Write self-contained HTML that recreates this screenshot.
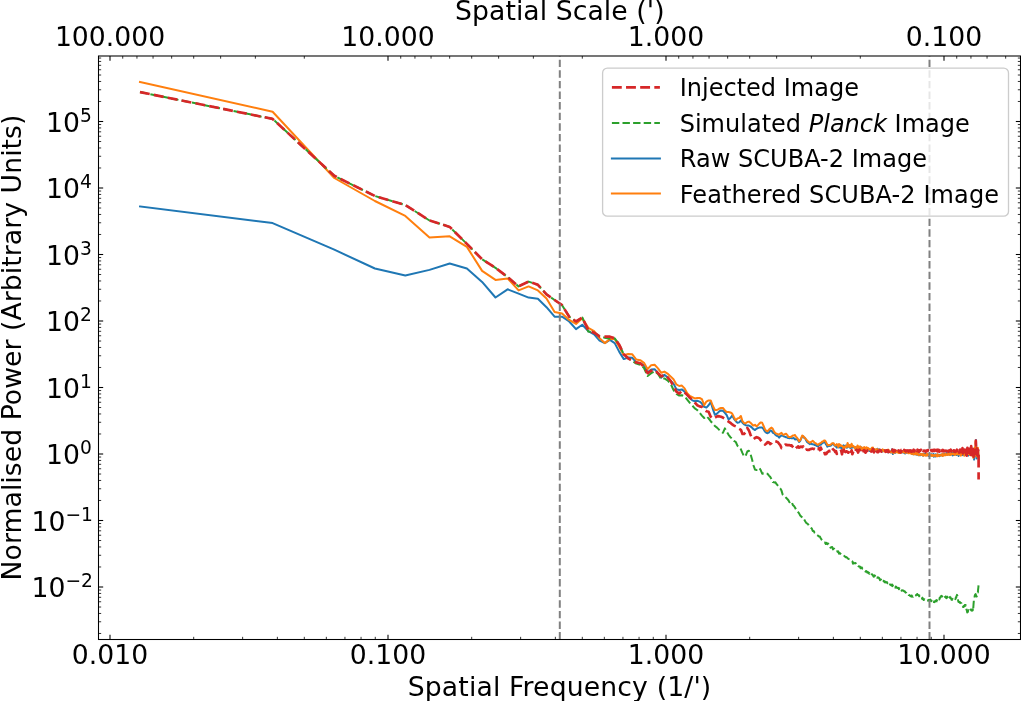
<!DOCTYPE html>
<html lang="en"><head><meta charset="utf-8"><title>Power spectrum</title>
<style>html,body{margin:0;padding:0;background:#fff}body{width:1021px;height:701px;overflow:hidden}</style></head>
<body>
<svg width="1021" height="701" viewBox="0 0 1021 701" style="display:block">
<rect width="1021" height="701" fill="#fff"/>
<defs><clipPath id="ax"><rect x="98.5" y="56.0" width="922.0" height="583.5"/></clipPath></defs>
<g clip-path="url(#ax)" fill="none" stroke-linejoin="round">
<path d="M140.0,206.5 L272.6,223.1 L334.3,249.7 L374.9,268.5 L405.3,275.5 L429.5,269.9 L449.7,263.5 L466.9,268.5 L482.1,281.9 L495.5,297.5 L507.6,289.3 L518.6,293.6 L528.6,297.6 L537.9,298.8 L546.5,307.2 L554.6,316.7 L562.1,316.7 L569.2,321.5 L576.0,329.1 L582.3,324.7 L588.3,331.1 L594.1,334.3 L599.6,340.7 L604.8,343.1 L609.9,339.9 L614.7,343.1 L619.3,351.9 L623.8,359.1 L628.1,357.5 L632.3,357.8 L636.3,362.4 L640.2,363.2 L644.0,365.6 L647.6,372.4 L651.2,369.6 L654.6,369.2 L658.0,373.2 L661.3,377.6 L664.4,374.8 L667.5,377.2 L670.6,380.8 L673.5,383.6 L676.4,389.2 L679.2,390.0 L681.9,389.4 L684.6,391.6 L687.2,394.8 L689.8,398.0 L692.3,400.4 L694.8,401.2 L697.2,400.8 L699.6,401.6 L701.9,403.6 L704.2,406.8 L706.4,407.6 L708.6,405.2 L710.7,402.0 L712.9,409.2 L714.9,414.8 L717.0,413.6 L719.0,411.6 L721.0,410.4 L722.9,410.8 L724.9,412.8 L726.7,415.2 L728.6,419.6 L730.4,418.0 L732.2,415.6 L734.0,418.8 L735.8,421.2 L737.5,422.8 L739.2,422.4 L740.9,420.4 L742.5,422.8 L744.1,424.4 L745.7,425.2 L747.3,425.6 L748.9,425.6 L750.5,426.4 L752.0,427.6 L753.5,429.2 L755.0,430.0 L756.5,428.8 L757.9,428.0 L759.3,427.6 L760.8,427.6 L762.2,427.6 L763.6,429.2 L764.9,431.6 L766.3,432.8 L767.6,433.2 L769.0,432.4 L770.3,430.4 L771.6,430.8 L772.8,432.8 L774.1,433.2 L775.4,434.8 L776.6,435.8 L777.9,436.1 L779.1,437.6 L780.3,436.3 L781.5,435.5 L782.7,435.6 L783.8,436.4 L785.0,436.8 L786.1,437.2 L787.3,437.7 L788.4,438.1 L789.5,438.2 L790.6,437.8 L791.7,438.3 L792.8,438.3 L793.9,438.0 L795.0,439.4 L796.0,439.2 L797.1,439.3 L798.1,440.4 L799.1,441.9 L800.2,441.0 L801.2,438.5 L802.2,436.4 L803.2,436.3 L804.2,437.9 L805.2,438.3 L806.1,440.2 L807.1,441.9 L808.1,442.8 L809.0,443.5 L810.0,444.1 L810.9,443.2 L811.8,444.2 L812.7,444.3 L813.7,444.4 L814.6,445.0 L815.5,444.8 L816.4,445.7 L817.2,446.0 L818.1,446.3 L819.0,445.1 L819.9,444.4 L820.7,444.8 L821.6,443.8 L822.4,443.1 L823.3,442.7 L824.1,441.9 L825.0,442.1 L825.8,444.1 L826.6,445.1 L827.4,446.7 L828.2,445.9 L829.0,446.1 L829.8,445.5 L830.6,445.7 L831.4,445.0 L832.2,444.1 L833.0,443.7 L833.8,444.6 L834.5,445.5 L835.3,445.9 L836.0,446.7 L836.8,447.7 L837.6,446.3 L838.3,445.8 L839.0,447.5 L839.8,446.1 L840.5,447.6 L841.2,446.1 L842.0,448.6 L842.7,446.2 L843.4,445.3 L844.1,446.7 L844.8,445.9 L845.5,445.5 L846.2,446.5 L846.9,447.7 L847.6,444.1 L848.3,446.7 L849.0,446.6 L849.6,446.7 L850.3,447.9 L851.0,445.4 L851.6,447.8 L852.3,446.9 L853.0,447.4 L853.6,447.1 L854.3,447.0 L854.9,446.9 L855.6,448.0 L856.2,450.1 L856.9,448.9 L857.5,448.8 L858.1,448.5 L858.8,447.4 L859.4,448.7 L860.0,450.4 L860.6,446.8 L861.2,449.2 L861.8,449.5 L862.5,448.8 L863.1,449.4 L863.7,450.1 L864.3,451.1 L864.9,450.2 L865.5,450.6 L866.1,449.3 L866.6,449.9 L867.2,449.3 L867.8,449.5 L868.4,448.8 L869.0,450.0 L869.5,450.9 L870.1,449.3 L870.7,449.8 L871.3,450.2 L871.8,449.6 L872.4,450.6 L872.9,450.0 L873.5,448.7 L874.0,448.9 L874.6,450.6 L875.1,450.6 L875.7,451.1 L876.2,450.3 L876.8,450.3 L877.3,448.7 L877.9,451.6 L878.4,449.4 L878.9,451.3 L879.4,449.4 L880.0,449.9 L880.5,450.7 L881.0,450.2 L881.5,450.0 L882.1,451.5 L882.6,451.3 L883.1,451.1 L883.6,450.5 L884.1,450.2 L884.6,450.5 L885.1,450.5 L885.6,451.0 L886.1,451.8 L886.6,451.0 L887.1,450.5 L887.6,450.7 L888.1,452.4 L888.6,451.5 L889.1,451.6 L889.6,451.7 L890.1,452.0 L890.5,451.6 L891.0,452.5 L891.5,452.2 L892.0,449.3 L892.5,451.5 L892.9,454.0 L893.4,450.7 L893.9,451.8 L894.3,452.6 L894.8,451.7 L895.3,452.8 L895.7,450.8 L896.2,450.9 L896.7,451.7 L897.1,451.3 L897.6,451.1 L898.0,452.3 L898.5,452.1 L898.9,452.0 L899.4,451.7 L899.8,452.2 L900.3,451.9 L900.7,451.6 L901.2,452.4 L901.6,452.3 L902.0,452.1 L902.5,452.5 L902.9,451.5 L903.3,452.1 L903.8,451.9 L904.2,453.0 L904.6,452.5 L905.1,453.5 L905.5,453.2 L905.9,452.1 L906.3,451.7 L906.8,452.7 L907.2,452.3 L907.6,452.5 L908.0,452.0 L908.4,453.0 L908.8,452.9 L909.3,453.0 L909.7,453.1 L910.1,452.4 L910.5,451.7 L910.9,452.9 L911.3,452.8 L911.7,452.9 L912.1,453.8 L912.5,453.3 L912.9,454.2 L913.3,453.6 L913.7,453.9 L914.1,453.9 L914.5,454.1 L914.9,453.0 L915.3,454.4 L915.7,453.9 L916.1,453.3 L916.5,454.3 L916.9,454.2 L917.2,454.8 L917.6,454.5 L918.0,454.4 L918.4,453.3 L918.8,455.3 L919.2,455.2 L919.5,454.9 L919.9,454.8 L920.3,455.2 L920.7,454.0 L921.1,454.9 L921.4,454.6 L921.8,454.0 L922.2,454.8 L922.5,454.8 L922.9,455.6 L923.3,455.2 L923.6,453.7 L924.0,453.6 L924.4,454.6 L924.7,454.6 L925.1,454.2 L925.5,453.9 L925.8,454.6 L926.2,454.1 L926.5,454.4 L926.9,455.3 L927.3,455.0 L927.6,454.4 L928.0,454.2 L928.3,454.8 L928.7,455.9 L929.0,454.6 L929.4,455.9 L929.7,454.5 L930.1,454.8 L930.4,455.4 L930.8,454.5 L931.1,455.0 L931.4,454.2 L931.8,455.4 L932.1,455.7 L932.5,454.7 L932.8,455.2 L933.2,454.9 L933.5,453.9 L933.8,456.7 L934.2,455.5 L934.5,455.6 L934.8,455.4 L935.2,455.3 L935.5,456.5 L935.8,454.2 L936.2,455.0 L936.5,455.0 L936.8,455.1 L937.1,455.7 L937.5,454.9 L937.8,454.5 L938.1,454.6 L938.5,455.5 L938.8,455.8 L939.1,455.6 L939.4,456.1 L939.7,454.8 L940.1,455.6 L940.4,455.4 L940.7,454.9 L941.0,454.5 L941.3,455.4 L941.7,454.5 L942.0,454.7 L942.3,454.3 L942.6,455.8 L942.9,454.7 L943.2,454.4 L943.5,454.6 L943.8,454.5 L944.1,454.7 L944.5,453.6 L944.8,453.9 L945.1,454.8 L945.4,455.1 L945.7,453.9 L946.0,454.5 L946.3,454.1 L946.6,453.1 L946.9,454.2 L947.2,453.7 L947.5,454.8 L947.8,454.1 L948.1,454.2 L948.4,453.3 L948.7,454.2 L949.0,453.0 L949.3,454.2 L949.6,454.8 L949.9,453.3 L950.2,454.5 L950.5,454.8 L950.8,453.8 L951.1,454.6 L951.4,454.0 L951.6,453.6 L951.9,452.6 L952.2,453.2 L952.5,452.9 L952.8,455.4 L953.1,454.0 L953.4,453.7 L953.7,452.8 L953.9,455.0 L954.2,452.9 L954.5,454.8 L954.8,454.5 L955.1,453.7 L955.4,453.1 L955.6,453.6 L955.9,452.5 L956.2,454.1 L956.5,455.0 L956.8,454.3 L957.0,454.5 L957.3,452.9 L957.6,453.8 L957.9,452.5 L958.1,453.0 L958.4,454.2 L958.7,456.0 L959.0,453.5 L959.2,453.4 L959.5,451.3 L959.8,453.5 L960.1,452.3 L960.3,451.7 L960.6,451.5 L960.9,453.4 L961.1,452.8 L961.4,454.1 L961.7,452.9 L961.9,453.2 L962.2,455.1 L962.5,454.3 L962.7,454.2 L963.0,455.2 L963.3,453.4 L963.5,451.7 L963.8,451.9 L964.1,450.7 L964.3,453.6 L964.6,452.4 L964.8,453.8 L965.1,454.3 L965.4,451.7 L965.6,453.3 L965.9,455.1 L966.1,453.1 L966.4,454.6 L966.7,452.7 L966.9,451.3 L967.2,452.6 L967.4,449.5 L967.7,454.3 L967.9,452.0 L968.2,455.6 L968.4,450.6 L968.7,453.3 L968.9,453.7 L969.2,452.6 L969.4,453.8 L969.7,451.4 L969.9,450.7 L970.2,449.9 L970.4,451.7 L970.7,451.2 L970.9,453.5 L971.2,452.1 L971.4,451.5 L971.7,451.3 L971.9,448.4 L972.2,452.1 L972.4,454.0 L972.7,449.7 L972.9,452.3 L973.1,454.7 L973.4,451.2 L973.6,453.5 L973.9,451.9 L974.1,459.6 L974.4,456.8 L974.6,456.3 L974.8,451.1 L975.1,454.8 L975.3,452.5 L975.6,454.0 L975.8,451.3 L976.0,440.0 L976.3,450.7 L976.5,453.9 L976.7,458.4 L977.0,448.8 L977.2,448.9 L977.4,454.6 L977.7,455.5 L977.9,451.8 L978.1,454.9 L978.4,454.4 L978.6,454.8" stroke="#1f77b4" stroke-width="2"  stroke-linecap="square"/>
<path d="M140.0,82.0 L272.6,111.7 L334.3,178.0 L374.9,201.0 L405.3,215.9 L429.5,237.5 L449.7,236.3 L466.9,246.9 L482.1,270.9 L495.5,279.9 L507.6,278.4 L518.6,290.4 L528.6,286.4 L537.9,290.4 L546.5,298.4 L554.6,312.0 L562.1,313.5 L569.2,319.9 L576.0,323.9 L582.3,318.3 L588.3,327.9 L594.1,331.1 L599.6,338.3 L604.8,343.1 L609.9,339.1 L614.7,339.1 L619.3,347.1 L623.8,355.1 L628.1,354.0 L632.3,354.3 L636.3,359.6 L640.2,360.2 L644.0,362.8 L647.6,369.2 L651.2,365.2 L654.6,364.8 L658.0,368.4 L661.3,372.8 L664.4,371.6 L667.5,373.6 L670.6,376.4 L673.5,379.2 L676.4,384.4 L679.2,386.0 L681.9,385.6 L684.6,388.4 L687.2,393.2 L689.8,396.0 L692.3,397.2 L694.8,398.4 L697.2,398.0 L699.6,398.0 L701.9,399.2 L704.2,405.2 L706.4,401.6 L708.6,400.4 L710.7,400.4 L712.9,406.0 L714.9,410.0 L717.0,410.0 L719.0,408.8 L721.0,408.0 L722.9,408.0 L724.9,410.4 L726.7,412.0 L728.6,412.0 L730.4,412.4 L732.2,413.6 L734.0,417.2 L735.8,420.4 L737.5,418.4 L739.2,418.0 L740.9,416.0 L742.5,421.2 L744.1,423.2 L745.7,423.2 L747.3,422.0 L748.9,421.6 L750.5,422.8 L752.0,424.4 L753.5,425.6 L755.0,424.8 L756.5,426.4 L757.9,425.2 L759.3,423.6 L760.8,422.4 L762.2,422.8 L763.6,426.0 L764.9,429.2 L766.3,430.8 L767.6,431.2 L769.0,429.6 L770.3,428.4 L771.6,427.6 L772.8,428.8 L774.1,431.6 L775.4,433.2 L776.6,433.6 L777.9,434.3 L779.1,434.7 L780.3,433.5 L781.5,432.8 L782.7,434.3 L783.8,434.8 L785.0,434.0 L786.1,433.8 L787.3,435.1 L788.4,437.1 L789.5,437.1 L790.6,437.0 L791.7,436.5 L792.8,435.6 L793.9,435.6 L795.0,435.0 L796.0,436.7 L797.1,437.7 L798.1,439.2 L799.1,441.2 L800.2,440.2 L801.2,438.1 L802.2,435.5 L803.2,436.1 L804.2,437.3 L805.2,438.3 L806.1,439.4 L807.1,440.4 L808.1,441.6 L809.0,442.3 L810.0,442.7 L810.9,442.0 L811.8,441.6 L812.7,440.8 L813.7,441.7 L814.6,442.8 L815.5,443.1 L816.4,443.9 L817.2,444.4 L818.1,444.9 L819.0,443.8 L819.9,443.4 L820.7,442.9 L821.6,442.3 L822.4,441.5 L823.3,441.4 L824.1,440.4 L825.0,440.5 L825.8,441.6 L826.6,443.3 L827.4,444.8 L828.2,445.3 L829.0,445.0 L829.8,445.0 L830.6,444.6 L831.4,444.1 L832.2,443.3 L833.0,443.1 L833.8,443.5 L834.5,444.7 L835.3,445.6 L836.0,445.4 L836.8,444.1 L837.6,445.1 L838.3,447.1 L839.0,443.9 L839.8,446.0 L840.5,444.9 L841.2,446.0 L842.0,445.9 L842.7,446.3 L843.4,448.1 L844.1,446.8 L844.8,448.0 L845.5,446.2 L846.2,445.8 L846.9,446.9 L847.6,443.0 L848.3,446.4 L849.0,446.7 L849.6,445.0 L850.3,447.1 L851.0,446.0 L851.6,443.8 L852.3,446.5 L853.0,445.7 L853.6,446.4 L854.3,446.9 L854.9,448.5 L855.6,447.3 L856.2,447.2 L856.9,447.8 L857.5,445.4 L858.1,448.9 L858.8,446.4 L859.4,448.2 L860.0,446.5 L860.6,446.8 L861.2,447.5 L861.8,450.0 L862.5,448.8 L863.1,447.5 L863.7,447.9 L864.3,447.1 L864.9,448.3 L865.5,447.8 L866.1,449.3 L866.6,447.2 L867.2,448.3 L867.8,447.9 L868.4,448.1 L869.0,449.6 L869.5,449.1 L870.1,449.6 L870.7,450.3 L871.3,450.3 L871.8,447.8 L872.4,449.8 L872.9,447.6 L873.5,449.3 L874.0,451.3 L874.6,449.3 L875.1,449.2 L875.7,449.7 L876.2,449.6 L876.8,449.7 L877.3,449.0 L877.9,450.8 L878.4,450.7 L878.9,449.7 L879.4,450.2 L880.0,450.6 L880.5,451.0 L881.0,450.5 L881.5,450.8 L882.1,450.0 L882.6,449.3 L883.1,449.9 L883.6,451.3 L884.1,451.3 L884.6,450.6 L885.1,450.0 L885.6,450.8 L886.1,452.0 L886.6,451.8 L887.1,450.1 L887.6,450.7 L888.1,449.6 L888.6,449.9 L889.1,451.1 L889.6,451.0 L890.1,451.8 L890.5,452.1 L891.0,451.7 L891.5,452.1 L892.0,450.7 L892.5,450.3 L892.9,451.6 L893.4,453.3 L893.9,451.5 L894.3,450.4 L894.8,451.5 L895.3,452.4 L895.7,450.6 L896.2,452.0 L896.7,451.0 L897.1,452.4 L897.6,452.1 L898.0,451.7 L898.5,453.0 L898.9,451.3 L899.4,451.1 L899.8,453.0 L900.3,451.1 L900.7,452.9 L901.2,451.7 L901.6,451.1 L902.0,451.8 L902.5,451.9 L902.9,451.9 L903.3,451.7 L903.8,452.5 L904.2,450.6 L904.6,451.6 L905.1,451.8 L905.5,453.0 L905.9,450.9 L906.3,451.9 L906.8,451.5 L907.2,451.8 L907.6,452.7 L908.0,452.6 L908.4,453.3 L908.8,452.2 L909.3,452.7 L909.7,453.3 L910.1,453.2 L910.5,452.6 L910.9,453.5 L911.3,452.4 L911.7,454.0 L912.1,453.2 L912.5,453.1 L912.9,453.4 L913.3,453.8 L913.7,454.4 L914.1,453.4 L914.5,453.3 L914.9,453.9 L915.3,453.2 L915.7,452.8 L916.1,454.3 L916.5,453.7 L916.9,454.6 L917.2,453.4 L917.6,452.4 L918.0,454.3 L918.4,454.3 L918.8,455.2 L919.2,454.7 L919.5,454.6 L919.9,454.8 L920.3,454.3 L920.7,454.6 L921.1,453.8 L921.4,454.9 L921.8,454.1 L922.2,454.3 L922.5,455.0 L922.9,455.2 L923.3,454.1 L923.6,455.8 L924.0,454.3 L924.4,455.2 L924.7,455.3 L925.1,454.9 L925.5,454.8 L925.8,455.8 L926.2,455.3 L926.5,455.0 L926.9,453.8 L927.3,454.4 L927.6,455.5 L928.0,455.0 L928.3,454.3 L928.7,454.5 L929.0,454.7 L929.4,455.3 L929.7,455.2 L930.1,455.5 L930.4,454.5 L930.8,455.5 L931.1,454.7 L931.4,454.8 L931.8,456.0 L932.1,455.1 L932.5,455.0 L932.8,454.9 L933.2,454.9 L933.5,456.0 L933.8,455.9 L934.2,455.5 L934.5,455.2 L934.8,455.8 L935.2,455.1 L935.5,455.4 L935.8,455.4 L936.2,455.3 L936.5,456.2 L936.8,456.2 L937.1,456.0 L937.5,454.2 L937.8,456.3 L938.1,455.7 L938.5,455.0 L938.8,455.2 L939.1,455.8 L939.4,455.8 L939.7,455.6 L940.1,455.2 L940.4,455.1 L940.7,455.5 L941.0,454.9 L941.3,454.4 L941.7,454.5 L942.0,454.8 L942.3,455.0 L942.6,456.1 L942.9,454.0 L943.2,455.0 L943.5,454.6 L943.8,454.8 L944.1,455.4 L944.5,455.3 L944.8,454.5 L945.1,454.2 L945.4,453.7 L945.7,454.4 L946.0,455.1 L946.3,454.3 L946.6,454.8 L946.9,454.7 L947.2,454.5 L947.5,454.9 L947.8,454.2 L948.1,453.7 L948.4,453.5 L948.7,454.7 L949.0,453.9 L949.3,453.9 L949.6,454.5 L949.9,453.6 L950.2,455.0 L950.5,454.4 L950.8,453.6 L951.1,453.6 L951.4,454.6 L951.6,453.2 L951.9,453.5 L952.2,453.9 L952.5,454.0 L952.8,453.8 L953.1,454.1 L953.4,453.5 L953.7,453.7 L953.9,454.6 L954.2,454.2 L954.5,453.4 L954.8,455.0 L955.1,452.1 L955.4,453.7 L955.6,454.2 L955.9,454.4 L956.2,453.7 L956.5,453.2 L956.8,454.1 L957.0,453.4 L957.3,453.9 L957.6,450.8 L957.9,453.8 L958.1,452.7 L958.4,454.4 L958.7,454.2 L959.0,454.2 L959.2,453.0 L959.5,453.8 L959.8,453.0 L960.1,453.6 L960.3,453.2 L960.6,452.3 L960.9,455.7 L961.1,454.1 L961.4,450.7 L961.7,454.4 L961.9,451.4 L962.2,452.9 L962.5,452.4 L962.7,452.4 L963.0,453.5 L963.3,452.7 L963.5,451.0 L963.8,453.1 L964.1,453.6 L964.3,455.7 L964.6,452.4 L964.8,451.1 L965.1,452.4 L965.4,454.1 L965.6,451.5 L965.9,451.8 L966.1,453.9 L966.4,453.0 L966.7,453.4 L966.9,451.9 L967.2,451.5 L967.4,452.4 L967.7,452.7 L967.9,452.4 L968.2,453.8 L968.4,454.1 L968.7,454.1 L968.9,454.0 L969.2,451.2 L969.4,450.7 L969.7,454.7 L969.9,453.0 L970.2,453.3 L970.4,450.4 L970.7,452.5 L970.9,451.6 L971.2,451.0 L971.4,451.5 L971.7,449.5 L971.9,453.2 L972.2,455.8 L972.4,451.3 L972.7,453.2 L972.9,450.3 L973.1,454.7 L973.4,457.8 L973.6,449.8 L973.9,452.4 L974.1,456.8 L974.4,454.0 L974.6,453.3 L974.8,447.4 L975.1,452.6 L975.3,455.6 L975.6,441.5 L975.8,454.8 L976.0,451.3 L976.3,451.0 L976.5,447.6 L976.7,449.8 L977.0,456.4 L977.2,452.6 L977.4,448.8 L977.7,457.1 L977.9,447.7 L978.1,457.0 L978.4,452.0 L978.6,454.1" stroke="#ff7f0e" stroke-width="2" stroke-linecap="square"/>
<path d="M140.0,92.1 L272.6,118.9 L334.3,175.8 L374.9,196.0 L405.3,205.0 L429.5,220.5 L449.7,226.9 L466.9,243.9 L482.1,259.3 L495.5,267.9 L507.6,277.0 L518.6,286.4 L528.6,281.6 L537.9,284.8 L546.5,294.4 L554.6,300.0 L562.1,305.2 L569.2,316.7 L576.0,321.5 L582.3,317.5 L588.3,331.6 L594.1,332.7 L599.6,336.4 L604.8,337.7 L609.9,338.9 L614.7,338.3 L619.3,344.7 L623.8,354.3 L628.1,358.3 L632.3,360.7 L636.3,363.6 L640.2,364.8 L644.0,368.0 L647.6,376.0 L651.2,373.2 L654.6,371.2 L658.0,374.0 L661.3,379.2 L664.4,378.4 L667.5,380.4 L670.6,383.6 L673.5,390.0 L676.4,394.0 L679.2,395.6 L681.9,395.2 L684.6,396.4 L687.2,399.6 L689.8,402.8 L692.3,405.6 L694.8,408.4 L697.2,410.0 L699.6,412.8 L701.9,415.6 L704.2,418.0 L706.4,416.2 L708.6,418.4 L710.7,421.2 L712.9,423.6 L714.9,426.0 L717.0,427.6 L719.0,429.6 L721.0,431.6 L722.9,432.8 L724.9,428.4 L726.7,431.6 L728.6,434.8 L730.4,437.2 L732.2,438.8 L734.0,440.8 L735.8,442.0 L737.5,445.8 L739.2,447.0 L740.9,449.3 L742.5,453.1 L744.1,456.5 L745.7,455.8 L747.3,451.5 L748.9,450.7 L750.5,453.9 L752.0,459.3 L753.5,465.3 L755.0,469.6 L756.5,470.0 L757.9,468.6 L759.3,467.9 L760.8,470.3 L762.2,473.7 L763.6,473.4 L764.9,474.0 L766.3,473.7 L767.6,473.8 L769.0,475.6 L770.3,477.0 L771.6,479.3 L772.8,482.0 L774.1,482.4 L775.4,482.2 L776.6,484.2 L777.9,485.7 L779.1,487.1 L780.3,488.4 L781.5,490.6 L782.7,494.6 L783.8,495.5 L785.0,496.7 L786.1,497.8 L787.3,499.0 L788.4,500.2 L789.5,502.2 L790.6,501.1 L791.7,501.8 L792.8,504.9 L793.9,505.9 L795.0,507.5 L796.0,509.5 L797.1,511.1 L798.1,512.2 L799.1,513.4 L800.2,515.6 L801.2,516.5 L802.2,517.5 L803.2,519.5 L804.2,519.5 L805.2,521.3 L806.1,522.7 L807.1,523.5 L808.1,524.3 L809.0,525.9 L810.0,526.6 L810.9,527.7 L811.8,528.5 L812.7,530.9 L813.7,530.9 L814.6,532.7 L815.5,533.2 L816.4,533.7 L817.2,535.1 L818.1,535.8 L819.0,536.6 L819.9,536.6 L820.7,538.3 L821.6,539.6 L822.4,540.2 L823.3,541.3 L824.1,542.4 L825.0,542.5 L825.8,544.0 L826.6,542.8 L827.4,544.1 L828.2,543.5 L829.0,546.0 L829.8,546.2 L830.6,547.7 L831.4,547.2 L832.2,547.0 L833.0,549.4 L833.8,548.6 L834.5,549.2 L835.3,550.4 L836.0,551.3 L836.8,551.1 L837.6,551.9 L838.3,551.3 L839.0,553.7 L839.8,553.1 L840.5,553.7 L841.2,554.4 L842.0,554.6 L842.7,555.0 L843.4,554.8 L844.1,555.7 L844.8,556.4 L845.5,557.2 L846.2,557.0 L846.9,557.6 L847.6,558.2 L848.3,558.8 L849.0,559.1 L849.6,559.3 L850.3,559.6 L851.0,561.0 L851.6,561.0 L852.3,561.3 L853.0,563.7 L853.6,562.7 L854.3,563.2 L854.9,563.2 L855.6,563.1 L856.2,564.7 L856.9,564.5 L857.5,565.0 L858.1,565.9 L858.8,566.4 L859.4,566.4 L860.0,566.7 L860.6,568.3 L861.2,567.9 L861.8,567.4 L862.5,568.8 L863.1,568.9 L863.7,569.3 L864.3,570.1 L864.9,570.2 L865.5,571.6 L866.1,571.0 L866.6,571.5 L867.2,572.4 L867.8,571.9 L868.4,573.1 L869.0,572.8 L869.5,573.8 L870.1,573.0 L870.7,574.0 L871.3,573.3 L871.8,574.2 L872.4,574.8 L872.9,575.3 L873.5,576.5 L874.0,576.7 L874.6,575.3 L875.1,575.9 L875.7,577.3 L876.2,577.2 L876.8,576.5 L877.3,577.8 L877.9,577.2 L878.4,577.7 L878.9,577.8 L879.4,578.6 L880.0,580.2 L880.5,579.5 L881.0,579.5 L881.5,581.2 L882.1,579.9 L882.6,580.3 L883.1,580.6 L883.6,581.2 L884.1,581.1 L884.6,582.3 L885.1,581.6 L885.6,582.4 L886.1,582.4 L886.6,582.1 L887.1,582.3 L887.6,583.1 L888.1,582.2 L888.6,583.7 L889.1,584.0 L889.6,584.3 L890.1,584.4 L890.5,584.9 L891.0,584.7 L891.5,585.5 L892.0,584.5 L892.5,586.1 L892.9,585.3 L893.4,586.3 L893.9,586.0 L894.3,586.2 L894.8,586.3 L895.3,587.6 L895.7,586.6 L896.2,586.7 L896.7,587.7 L897.1,587.9 L897.6,588.0 L898.0,587.7 L898.5,588.1 L898.9,589.2 L899.4,588.3 L899.8,589.4 L900.3,589.6 L900.7,589.6 L901.2,589.3 L901.6,590.7 L902.0,590.2 L902.5,590.5 L902.9,590.5 L903.3,590.5 L903.8,591.0 L904.2,591.4 L904.6,591.2 L905.1,591.8 L905.5,592.5 L905.9,592.6 L906.3,592.8 L906.8,593.5 L907.2,593.8 L907.6,594.1 L908.0,593.8 L908.4,593.8 L908.8,595.1 L909.3,595.1 L909.7,595.3 L910.1,595.9 L910.5,595.8 L910.9,595.8 L911.3,596.7 L911.7,595.5 L912.1,596.4 L912.5,596.5 L912.9,596.8 L913.3,596.3 L913.7,596.4 L914.1,596.0 L914.5,596.3 L914.9,595.6 L915.3,596.0 L915.7,595.7 L916.1,595.2 L916.5,594.6 L916.9,594.8 L917.2,594.0 L917.6,594.9 L918.0,594.9 L918.4,595.2 L918.8,595.4 L919.2,596.3 L919.5,595.5 L919.9,596.7 L920.3,597.1 L920.7,596.9 L921.1,597.0 L921.4,597.2 L921.8,597.6 L922.2,599.0 L922.5,597.8 L922.9,599.1 L923.3,599.0 L923.6,600.1 L924.0,599.7 L924.4,599.3 L924.7,599.8 L925.1,600.2 L925.5,600.4 L925.8,600.2 L926.2,600.6 L926.5,600.6 L926.9,600.8 L927.3,600.7 L927.6,600.5 L928.0,600.2 L928.3,600.6 L928.7,600.0 L929.0,599.8 L929.4,599.9 L929.7,599.9 L930.1,600.1 L930.4,599.6 L930.8,601.0 L931.1,600.8 L931.4,601.2 L931.8,600.8 L932.1,601.3 L932.5,601.3 L932.8,601.3 L933.2,602.1 L933.5,601.4 L933.8,602.0 L934.2,601.3 L934.5,602.1 L934.8,601.7 L935.2,601.3 L935.5,601.3 L935.8,600.6 L936.2,600.9 L936.5,601.2 L936.8,600.1 L937.1,601.3 L937.5,601.1 L937.8,600.3 L938.1,599.9 L938.5,599.7 L938.8,599.2 L939.1,598.9 L939.4,599.4 L939.7,597.7 L940.1,597.8 L940.4,597.5 L940.7,596.2 L941.0,596.2 L941.3,596.4 L941.7,595.8 L942.0,596.3 L942.3,596.5 L942.6,595.6 L942.9,595.2 L943.2,595.5 L943.5,595.3 L943.8,595.1 L944.1,595.6 L944.5,596.0 L944.8,596.4 L945.1,596.9 L945.4,596.6 L945.7,596.5 L946.0,596.7 L946.3,598.2 L946.6,597.2 L946.9,596.9 L947.2,597.6 L947.5,596.8 L947.8,596.9 L948.1,595.8 L948.4,595.3 L948.7,595.1 L949.0,595.8 L949.3,596.1 L949.6,596.6 L949.9,597.7 L950.2,597.8 L950.5,597.4 L950.8,598.3 L951.1,598.8 L951.4,598.6 L951.6,599.8 L951.9,599.4 L952.2,599.7 L952.5,599.0 L952.8,598.9 L953.1,599.7 L953.4,599.4 L953.7,599.3 L953.9,599.2 L954.2,599.1 L954.5,598.8 L954.8,598.5 L955.1,598.5 L955.4,599.1 L955.6,598.3 L955.9,597.4 L956.2,597.8 L956.5,596.3 L956.8,595.4 L957.0,594.9 L957.3,595.4 L957.6,598.1 L957.9,598.8 L958.1,600.3 L958.4,601.8 L958.7,602.0 L959.0,601.7 L959.2,602.1 L959.5,602.4 L959.8,602.7 L960.1,602.2 L960.3,602.8 L960.6,602.8 L960.9,603.1 L961.1,603.2 L961.4,603.3 L961.7,604.5 L961.9,604.8 L962.2,604.7 L962.5,605.1 L962.7,606.0 L963.0,606.9 L963.3,606.4 L963.5,607.1 L963.8,606.2 L964.1,606.0 L964.3,606.0 L964.6,606.0 L964.8,605.0 L965.1,605.4 L965.4,605.7 L965.6,604.9 L965.9,606.6 L966.1,607.8 L966.4,609.2 L966.7,610.1 L966.9,610.6 L967.2,612.4 L967.4,612.3 L967.7,612.1 L967.9,611.9 L968.2,610.4 L968.4,608.6 L968.7,608.2 L968.9,608.1 L969.2,608.3 L969.4,608.1 L969.7,608.1 L969.9,608.2 L970.2,608.9 L970.4,609.2 L970.7,609.3 L970.9,609.6 L971.2,610.3 L971.4,609.6 L971.7,609.7 L971.9,610.7 L972.2,609.7 L972.4,609.7 L972.7,610.4 L972.9,609.3 L973.1,610.5 L973.4,606.3 L973.6,603.3 L973.9,600.0 L974.1,598.4 L974.4,597.4 L974.6,596.9 L974.8,595.4 L975.1,594.8 L975.3,594.5 L975.6,594.1 L975.8,595.0 L976.0,595.1 L976.3,595.5 L976.5,596.1 L976.7,596.5 L977.0,595.6 L977.2,593.7 L977.4,593.5 L977.7,592.4 L977.9,592.4 L978.1,589.6 L978.4,587.0 L978.6,583.9" stroke="#2ca02c" stroke-width="2" stroke-dasharray="7.4 3.2"/>
<path d="M140.0,92.1 L272.6,118.9 L334.3,175.8 L374.9,196.0 L405.3,205.0 L429.5,220.5 L449.7,226.9 L466.9,243.9 L482.1,259.3 L495.5,267.9 L507.6,277.0 L518.6,286.4 L528.6,281.6 L537.9,284.8 L546.5,294.4 L554.6,300.0 L562.1,305.2 L569.2,316.7 L576.0,321.5 L582.3,317.5 L588.3,330.3 L594.1,332.7 L599.6,336.4 L604.8,336.7 L609.9,336.7 L614.7,338.3 L619.3,344.7 L623.8,354.3 L628.1,358.3 L632.3,360.7 L636.3,362.4 L640.2,363.2 L644.0,366.8 L647.6,373.2 L651.2,370.8 L654.6,369.6 L658.0,373.2 L661.3,376.4 L664.4,374.8 L667.5,377.2 L670.6,380.8 L673.5,386.4 L676.4,391.6 L679.2,393.6 L681.9,390.8 L684.6,392.4 L687.2,394.9 L689.8,397.6 L692.3,400.0 L694.8,402.5 L697.2,405.2 L699.6,406.4 L701.9,406.9 L704.2,409.3 L706.4,411.2 L708.6,411.7 L710.7,416.8 L712.9,418.8 L714.9,417.6 L717.0,416.4 L719.0,416.2 L721.0,416.8 L722.9,417.6 L724.9,418.8 L726.7,420.2 L728.6,421.6 L730.4,422.8 L732.2,424.4 L734.0,425.6 L735.8,426.4 L737.5,427.6 L739.2,428.8 L740.9,429.8 L742.5,434.0 L744.1,434.0 L745.7,432.0 L747.3,428.0 L748.9,430.4 L750.5,434.8 L752.0,438.0 L753.5,439.2 L755.0,438.0 L756.5,437.2 L757.9,437.6 L759.3,438.4 L760.8,440.4 L762.2,442.0 L763.6,442.7 L764.9,444.5 L766.3,443.7 L767.6,442.1 L769.0,442.6 L770.3,444.1 L771.6,443.0 L772.8,441.2 L774.1,441.0 L775.4,441.3 L776.6,441.6 L777.9,442.2 L779.1,443.8 L780.3,445.2 L781.5,448.0 L782.7,447.3 L783.8,445.9 L785.0,444.9 L786.1,444.6 L787.3,445.2 L788.4,445.2 L789.5,445.1 L790.6,445.7 L791.7,445.4 L792.8,447.0 L793.9,448.2 L795.0,449.4 L796.0,448.0 L797.1,447.4 L798.1,446.3 L799.1,447.7 L800.2,447.0 L801.2,446.6 L802.2,447.1 L803.2,446.4 L804.2,449.5 L805.2,450.1 L806.1,449.6 L807.1,449.8 L808.1,449.8 L809.0,450.0 L810.0,449.2 L810.9,448.9 L811.8,448.8 L812.7,448.6 L813.7,449.1 L814.6,448.8 L815.5,449.9 L816.4,448.4 L817.2,448.9 L818.1,449.0 L819.0,448.1 L819.9,450.1 L820.7,447.5 L821.6,449.6 L822.4,450.5 L823.3,452.6 L824.1,451.6 L825.0,454.2 L825.8,454.2 L826.6,453.6 L827.4,452.0 L828.2,451.9 L829.0,450.8 L829.8,451.2 L830.6,451.1 L831.4,451.1 L832.2,448.0 L833.0,449.4 L833.8,449.9 L834.5,450.5 L835.3,452.2 L836.0,451.2 L836.8,453.9 L837.6,452.0 L838.3,451.5 L839.0,451.4 L839.8,451.5 L840.5,451.5 L841.2,450.6 L842.0,454.3 L842.7,449.3 L843.4,447.1 L844.1,451.5 L844.8,451.4 L845.5,452.1 L846.2,451.3 L846.9,451.4 L847.6,452.0 L848.3,452.7 L849.0,451.0 L849.6,451.1 L850.3,453.8 L851.0,452.1 L851.6,450.3 L852.3,454.2 L853.0,452.3 L853.6,450.8 L854.3,450.1 L854.9,451.7 L855.6,450.4 L856.2,450.2 L856.9,449.9 L857.5,450.8 L858.1,452.6 L858.8,450.8 L859.4,449.7 L860.0,452.0 L860.6,451.4 L861.2,452.2 L861.8,452.6 L862.5,451.1 L863.1,451.1 L863.7,451.2 L864.3,450.1 L864.9,452.0 L865.5,452.7 L866.1,451.4 L866.6,451.0 L867.2,451.0 L867.8,450.4 L868.4,450.4 L869.0,450.8 L869.5,450.4 L870.1,450.8 L870.7,449.7 L871.3,451.6 L871.8,451.3 L872.4,450.1 L872.9,449.0 L873.5,451.2 L874.0,452.3 L874.6,450.5 L875.1,450.7 L875.7,450.6 L876.2,451.8 L876.8,450.3 L877.3,452.1 L877.9,450.9 L878.4,452.0 L878.9,451.2 L879.4,450.9 L880.0,449.8 L880.5,450.5 L881.0,450.9 L881.5,451.7 L882.1,451.4 L882.6,450.5 L883.1,451.5 L883.6,452.0 L884.1,451.0 L884.6,450.7 L885.1,450.8 L885.6,451.8 L886.1,451.6 L886.6,450.3 L887.1,451.4 L887.6,450.7 L888.1,450.5 L888.6,452.1 L889.1,451.8 L889.6,450.5 L890.1,451.1 L890.5,451.5 L891.0,450.6 L891.5,451.0 L892.0,451.6 L892.5,449.6 L892.9,451.3 L893.4,451.6 L893.9,451.4 L894.3,450.0 L894.8,451.3 L895.3,450.4 L895.7,451.5 L896.2,451.5 L896.7,451.2 L897.1,450.4 L897.6,450.6 L898.0,451.6 L898.5,450.4 L898.9,451.4 L899.4,451.4 L899.8,450.8 L900.3,452.4 L900.7,451.0 L901.2,452.2 L901.6,449.8 L902.0,449.7 L902.5,451.5 L902.9,451.3 L903.3,450.8 L903.8,450.9 L904.2,449.9 L904.6,450.6 L905.1,450.3 L905.5,450.8 L905.9,451.4 L906.3,450.9 L906.8,451.1 L907.2,450.5 L907.6,450.7 L908.0,451.0 L908.4,450.7 L908.8,451.6 L909.3,450.4 L909.7,451.9 L910.1,450.3 L910.5,451.5 L910.9,450.4 L911.3,451.8 L911.7,450.9 L912.1,451.1 L912.5,451.3 L912.9,450.5 L913.3,450.2 L913.7,449.7 L914.1,451.5 L914.5,450.4 L914.9,450.5 L915.3,450.8 L915.7,451.9 L916.1,449.8 L916.5,450.9 L916.9,450.5 L917.2,451.1 L917.6,449.7 L918.0,450.5 L918.4,451.2 L918.8,451.6 L919.2,451.7 L919.5,450.3 L919.9,450.8 L920.3,450.7 L920.7,449.9 L921.1,449.9 L921.4,451.1 L921.8,450.8 L922.2,450.6 L922.5,451.4 L922.9,450.1 L923.3,451.0 L923.6,450.7 L924.0,450.6 L924.4,451.0 L924.7,450.8 L925.1,450.8 L925.5,450.8 L925.8,451.8 L926.2,450.5 L926.5,451.2 L926.9,451.0 L927.3,450.4 L927.6,451.1 L928.0,450.1 L928.3,451.3 L928.7,450.2 L929.0,450.3 L929.4,450.8 L929.7,451.1 L930.1,451.1 L930.4,451.1 L930.8,450.5 L931.1,450.1 L931.4,450.9 L931.8,450.8 L932.1,450.1 L932.5,451.2 L932.8,450.8 L933.2,450.1 L933.5,450.9 L933.8,449.9 L934.2,450.2 L934.5,450.9 L934.8,449.8 L935.2,450.7 L935.5,449.9 L935.8,451.1 L936.2,450.3 L936.5,450.8 L936.8,449.9 L937.1,450.5 L937.5,451.3 L937.8,451.0 L938.1,449.7 L938.5,451.3 L938.8,451.3 L939.1,450.6 L939.4,451.6 L939.7,450.2 L940.1,450.8 L940.4,451.4 L940.7,451.6 L941.0,451.6 L941.3,450.2 L941.7,449.8 L942.0,451.1 L942.3,450.0 L942.6,450.8 L942.9,450.1 L943.2,451.5 L943.5,451.3 L943.8,451.2 L944.1,450.9 L944.5,450.9 L944.8,450.7 L945.1,451.1 L945.4,451.0 L945.7,451.2 L946.0,450.7 L946.3,452.0 L946.6,451.1 L946.9,451.7 L947.2,451.7 L947.5,450.4 L947.8,450.0 L948.1,451.7 L948.4,450.7 L948.7,451.0 L949.0,450.8 L949.3,451.1 L949.6,450.3 L949.9,450.9 L950.2,450.7 L950.5,451.0 L950.8,449.7 L951.1,451.5 L951.4,451.2 L951.6,450.0 L951.9,450.6 L952.2,451.1 L952.5,451.5 L952.8,451.1 L953.1,452.0 L953.4,451.1 L953.7,450.4 L953.9,450.6 L954.2,451.6 L954.5,450.6 L954.8,451.7 L955.1,451.9 L955.4,451.6 L955.6,451.9 L955.9,451.0 L956.2,451.1 L956.5,450.6 L956.8,450.6 L957.0,449.7 L957.3,450.6 L957.6,450.1 L957.9,449.8 L958.1,451.3 L958.4,451.6 L958.7,450.8 L959.0,452.6 L959.2,452.2 L959.5,452.3 L959.8,450.5 L960.1,449.5 L960.3,451.9 L960.6,451.6 L960.9,452.1 L961.1,451.7 L961.4,452.8 L961.7,450.9 L961.9,452.1 L962.2,450.1 L962.5,448.1 L962.7,450.6 L963.0,453.3 L963.3,448.9 L963.5,452.7 L963.8,450.3 L964.1,450.7 L964.3,451.3 L964.6,451.6 L964.8,449.7 L965.1,451.5 L965.4,452.0 L965.6,452.7 L965.9,450.0 L966.1,454.0 L966.4,454.6 L966.7,455.6 L966.9,448.9 L967.2,451.6 L967.4,447.9 L967.7,452.0 L967.9,452.4 L968.2,449.1 L968.4,448.2 L968.7,451.7 L968.9,452.6 L969.2,449.7 L969.4,450.8 L969.7,446.0 L969.9,449.8 L970.2,451.7 L970.4,451.7 L970.7,454.9 L970.9,448.8 L971.2,446.2 L971.4,452.4 L971.7,450.0 L971.9,452.1 L972.2,453.1 L972.4,452.9 L972.7,455.0 L972.9,454.8 L973.1,447.2 L973.4,451.3 L973.6,456.6 L973.9,450.4 L974.1,454.0 L974.4,451.3 L974.6,450.3 L974.8,455.8 L975.1,454.3 L975.3,450.8 L975.6,454.0 L975.8,440.6 L976.0,446.0 L976.3,454.1 L976.5,451.6 L976.7,448.3 L977.0,452.8 L977.2,452.5 L977.4,455.5 L977.7,454.5 L977.9,450.6 L978.1,449.9 L978.4,451.0 L978.6,455.0" stroke="#d62728" stroke-width="2.67" stroke-dasharray="9.87 4.27"/>
<path d="M978.6,455.0 V467.4 M978.6,472.2 V479.4" stroke="#d62728" stroke-width="2.67"/>
<path d="M559.8,639.5 L559.8,56.0" stroke="#808080" stroke-width="2" stroke-dasharray="7.4 3.2"/>
<path d="M929.5,639.5 L929.5,56.0" stroke="#808080" stroke-width="2" stroke-dasharray="7.4 3.2"/>
</g>
<g stroke="#000" fill="none"><path d="M110.00,639.5 v-4.67" stroke-width="1.07"/><path d="M193.69,639.5 v-2.67" stroke-width="0.8"/><path d="M242.64,639.5 v-2.67" stroke-width="0.8"/><path d="M277.37,639.5 v-2.67" stroke-width="0.8"/><path d="M304.31,639.5 v-2.67" stroke-width="0.8"/><path d="M326.33,639.5 v-2.67" stroke-width="0.8"/><path d="M344.94,639.5 v-2.67" stroke-width="0.8"/><path d="M361.06,639.5 v-2.67" stroke-width="0.8"/><path d="M375.28,639.5 v-2.67" stroke-width="0.8"/><path d="M388.00,639.5 v-4.67" stroke-width="1.07"/><path d="M471.69,639.5 v-2.67" stroke-width="0.8"/><path d="M520.64,639.5 v-2.67" stroke-width="0.8"/><path d="M555.37,639.5 v-2.67" stroke-width="0.8"/><path d="M582.31,639.5 v-2.67" stroke-width="0.8"/><path d="M604.33,639.5 v-2.67" stroke-width="0.8"/><path d="M622.94,639.5 v-2.67" stroke-width="0.8"/><path d="M639.06,639.5 v-2.67" stroke-width="0.8"/><path d="M653.28,639.5 v-2.67" stroke-width="0.8"/><path d="M666.00,639.5 v-4.67" stroke-width="1.07"/><path d="M749.69,639.5 v-2.67" stroke-width="0.8"/><path d="M798.64,639.5 v-2.67" stroke-width="0.8"/><path d="M833.37,639.5 v-2.67" stroke-width="0.8"/><path d="M860.31,639.5 v-2.67" stroke-width="0.8"/><path d="M882.33,639.5 v-2.67" stroke-width="0.8"/><path d="M900.94,639.5 v-2.67" stroke-width="0.8"/><path d="M917.06,639.5 v-2.67" stroke-width="0.8"/><path d="M931.28,639.5 v-2.67" stroke-width="0.8"/><path d="M944.00,639.5 v-4.67" stroke-width="1.07"/><path d="M1005.67,56.0 v2.67" stroke-width="0.8"/><path d="M987.06,56.0 v2.67" stroke-width="0.8"/><path d="M970.94,56.0 v2.67" stroke-width="0.8"/><path d="M956.72,56.0 v2.67" stroke-width="0.8"/><path d="M944.00,56.0 v4.67" stroke-width="1.07"/><path d="M860.31,56.0 v2.67" stroke-width="0.8"/><path d="M811.36,56.0 v2.67" stroke-width="0.8"/><path d="M776.63,56.0 v2.67" stroke-width="0.8"/><path d="M749.69,56.0 v2.67" stroke-width="0.8"/><path d="M727.67,56.0 v2.67" stroke-width="0.8"/><path d="M709.06,56.0 v2.67" stroke-width="0.8"/><path d="M692.94,56.0 v2.67" stroke-width="0.8"/><path d="M678.72,56.0 v2.67" stroke-width="0.8"/><path d="M666.00,56.0 v4.67" stroke-width="1.07"/><path d="M582.31,56.0 v2.67" stroke-width="0.8"/><path d="M533.36,56.0 v2.67" stroke-width="0.8"/><path d="M498.63,56.0 v2.67" stroke-width="0.8"/><path d="M471.69,56.0 v2.67" stroke-width="0.8"/><path d="M449.67,56.0 v2.67" stroke-width="0.8"/><path d="M431.06,56.0 v2.67" stroke-width="0.8"/><path d="M414.94,56.0 v2.67" stroke-width="0.8"/><path d="M400.72,56.0 v2.67" stroke-width="0.8"/><path d="M388.00,56.0 v4.67" stroke-width="1.07"/><path d="M304.31,56.0 v2.67" stroke-width="0.8"/><path d="M255.36,56.0 v2.67" stroke-width="0.8"/><path d="M220.63,56.0 v2.67" stroke-width="0.8"/><path d="M193.69,56.0 v2.67" stroke-width="0.8"/><path d="M171.67,56.0 v2.67" stroke-width="0.8"/><path d="M153.06,56.0 v2.67" stroke-width="0.8"/><path d="M136.94,56.0 v2.67" stroke-width="0.8"/><path d="M122.72,56.0 v2.67" stroke-width="0.8"/><path d="M110.00,56.0 v4.67" stroke-width="1.07"/><path d="M98.5,633.48 h2.67" stroke-width="0.8"/><path d="M1020.5,633.48 h-2.67" stroke-width="0.8"/><path d="M98.5,621.77 h2.67" stroke-width="0.8"/><path d="M1020.5,621.77 h-2.67" stroke-width="0.8"/><path d="M98.5,613.46 h2.67" stroke-width="0.8"/><path d="M1020.5,613.46 h-2.67" stroke-width="0.8"/><path d="M98.5,607.02 h2.67" stroke-width="0.8"/><path d="M1020.5,607.02 h-2.67" stroke-width="0.8"/><path d="M98.5,601.75 h2.67" stroke-width="0.8"/><path d="M1020.5,601.75 h-2.67" stroke-width="0.8"/><path d="M98.5,597.30 h2.67" stroke-width="0.8"/><path d="M1020.5,597.30 h-2.67" stroke-width="0.8"/><path d="M98.5,593.44 h2.67" stroke-width="0.8"/><path d="M1020.5,593.44 h-2.67" stroke-width="0.8"/><path d="M98.5,590.04 h2.67" stroke-width="0.8"/><path d="M1020.5,590.04 h-2.67" stroke-width="0.8"/><path d="M98.5,587.00 h4.67" stroke-width="1.07"/><path d="M1020.5,587.00 h-4.67" stroke-width="1.07"/><path d="M98.5,566.98 h2.67" stroke-width="0.8"/><path d="M1020.5,566.98 h-2.67" stroke-width="0.8"/><path d="M98.5,555.27 h2.67" stroke-width="0.8"/><path d="M1020.5,555.27 h-2.67" stroke-width="0.8"/><path d="M98.5,546.96 h2.67" stroke-width="0.8"/><path d="M1020.5,546.96 h-2.67" stroke-width="0.8"/><path d="M98.5,540.52 h2.67" stroke-width="0.8"/><path d="M1020.5,540.52 h-2.67" stroke-width="0.8"/><path d="M98.5,535.25 h2.67" stroke-width="0.8"/><path d="M1020.5,535.25 h-2.67" stroke-width="0.8"/><path d="M98.5,530.80 h2.67" stroke-width="0.8"/><path d="M1020.5,530.80 h-2.67" stroke-width="0.8"/><path d="M98.5,526.94 h2.67" stroke-width="0.8"/><path d="M1020.5,526.94 h-2.67" stroke-width="0.8"/><path d="M98.5,523.54 h2.67" stroke-width="0.8"/><path d="M1020.5,523.54 h-2.67" stroke-width="0.8"/><path d="M98.5,520.50 h4.67" stroke-width="1.07"/><path d="M1020.5,520.50 h-4.67" stroke-width="1.07"/><path d="M98.5,500.48 h2.67" stroke-width="0.8"/><path d="M1020.5,500.48 h-2.67" stroke-width="0.8"/><path d="M98.5,488.77 h2.67" stroke-width="0.8"/><path d="M1020.5,488.77 h-2.67" stroke-width="0.8"/><path d="M98.5,480.46 h2.67" stroke-width="0.8"/><path d="M1020.5,480.46 h-2.67" stroke-width="0.8"/><path d="M98.5,474.02 h2.67" stroke-width="0.8"/><path d="M1020.5,474.02 h-2.67" stroke-width="0.8"/><path d="M98.5,468.75 h2.67" stroke-width="0.8"/><path d="M1020.5,468.75 h-2.67" stroke-width="0.8"/><path d="M98.5,464.30 h2.67" stroke-width="0.8"/><path d="M1020.5,464.30 h-2.67" stroke-width="0.8"/><path d="M98.5,460.44 h2.67" stroke-width="0.8"/><path d="M1020.5,460.44 h-2.67" stroke-width="0.8"/><path d="M98.5,457.04 h2.67" stroke-width="0.8"/><path d="M1020.5,457.04 h-2.67" stroke-width="0.8"/><path d="M98.5,454.00 h4.67" stroke-width="1.07"/><path d="M1020.5,454.00 h-4.67" stroke-width="1.07"/><path d="M98.5,433.98 h2.67" stroke-width="0.8"/><path d="M1020.5,433.98 h-2.67" stroke-width="0.8"/><path d="M98.5,422.27 h2.67" stroke-width="0.8"/><path d="M1020.5,422.27 h-2.67" stroke-width="0.8"/><path d="M98.5,413.96 h2.67" stroke-width="0.8"/><path d="M1020.5,413.96 h-2.67" stroke-width="0.8"/><path d="M98.5,407.52 h2.67" stroke-width="0.8"/><path d="M1020.5,407.52 h-2.67" stroke-width="0.8"/><path d="M98.5,402.25 h2.67" stroke-width="0.8"/><path d="M1020.5,402.25 h-2.67" stroke-width="0.8"/><path d="M98.5,397.80 h2.67" stroke-width="0.8"/><path d="M1020.5,397.80 h-2.67" stroke-width="0.8"/><path d="M98.5,393.94 h2.67" stroke-width="0.8"/><path d="M1020.5,393.94 h-2.67" stroke-width="0.8"/><path d="M98.5,390.54 h2.67" stroke-width="0.8"/><path d="M1020.5,390.54 h-2.67" stroke-width="0.8"/><path d="M98.5,387.50 h4.67" stroke-width="1.07"/><path d="M1020.5,387.50 h-4.67" stroke-width="1.07"/><path d="M98.5,367.48 h2.67" stroke-width="0.8"/><path d="M1020.5,367.48 h-2.67" stroke-width="0.8"/><path d="M98.5,355.77 h2.67" stroke-width="0.8"/><path d="M1020.5,355.77 h-2.67" stroke-width="0.8"/><path d="M98.5,347.46 h2.67" stroke-width="0.8"/><path d="M1020.5,347.46 h-2.67" stroke-width="0.8"/><path d="M98.5,341.02 h2.67" stroke-width="0.8"/><path d="M1020.5,341.02 h-2.67" stroke-width="0.8"/><path d="M98.5,335.75 h2.67" stroke-width="0.8"/><path d="M1020.5,335.75 h-2.67" stroke-width="0.8"/><path d="M98.5,331.30 h2.67" stroke-width="0.8"/><path d="M1020.5,331.30 h-2.67" stroke-width="0.8"/><path d="M98.5,327.44 h2.67" stroke-width="0.8"/><path d="M1020.5,327.44 h-2.67" stroke-width="0.8"/><path d="M98.5,324.04 h2.67" stroke-width="0.8"/><path d="M1020.5,324.04 h-2.67" stroke-width="0.8"/><path d="M98.5,321.00 h4.67" stroke-width="1.07"/><path d="M1020.5,321.00 h-4.67" stroke-width="1.07"/><path d="M98.5,300.98 h2.67" stroke-width="0.8"/><path d="M1020.5,300.98 h-2.67" stroke-width="0.8"/><path d="M98.5,289.27 h2.67" stroke-width="0.8"/><path d="M1020.5,289.27 h-2.67" stroke-width="0.8"/><path d="M98.5,280.96 h2.67" stroke-width="0.8"/><path d="M1020.5,280.96 h-2.67" stroke-width="0.8"/><path d="M98.5,274.52 h2.67" stroke-width="0.8"/><path d="M1020.5,274.52 h-2.67" stroke-width="0.8"/><path d="M98.5,269.25 h2.67" stroke-width="0.8"/><path d="M1020.5,269.25 h-2.67" stroke-width="0.8"/><path d="M98.5,264.80 h2.67" stroke-width="0.8"/><path d="M1020.5,264.80 h-2.67" stroke-width="0.8"/><path d="M98.5,260.94 h2.67" stroke-width="0.8"/><path d="M1020.5,260.94 h-2.67" stroke-width="0.8"/><path d="M98.5,257.54 h2.67" stroke-width="0.8"/><path d="M1020.5,257.54 h-2.67" stroke-width="0.8"/><path d="M98.5,254.50 h4.67" stroke-width="1.07"/><path d="M1020.5,254.50 h-4.67" stroke-width="1.07"/><path d="M98.5,234.48 h2.67" stroke-width="0.8"/><path d="M1020.5,234.48 h-2.67" stroke-width="0.8"/><path d="M98.5,222.77 h2.67" stroke-width="0.8"/><path d="M1020.5,222.77 h-2.67" stroke-width="0.8"/><path d="M98.5,214.46 h2.67" stroke-width="0.8"/><path d="M1020.5,214.46 h-2.67" stroke-width="0.8"/><path d="M98.5,208.02 h2.67" stroke-width="0.8"/><path d="M1020.5,208.02 h-2.67" stroke-width="0.8"/><path d="M98.5,202.75 h2.67" stroke-width="0.8"/><path d="M1020.5,202.75 h-2.67" stroke-width="0.8"/><path d="M98.5,198.30 h2.67" stroke-width="0.8"/><path d="M1020.5,198.30 h-2.67" stroke-width="0.8"/><path d="M98.5,194.44 h2.67" stroke-width="0.8"/><path d="M1020.5,194.44 h-2.67" stroke-width="0.8"/><path d="M98.5,191.04 h2.67" stroke-width="0.8"/><path d="M1020.5,191.04 h-2.67" stroke-width="0.8"/><path d="M98.5,188.00 h4.67" stroke-width="1.07"/><path d="M1020.5,188.00 h-4.67" stroke-width="1.07"/><path d="M98.5,167.98 h2.67" stroke-width="0.8"/><path d="M1020.5,167.98 h-2.67" stroke-width="0.8"/><path d="M98.5,156.27 h2.67" stroke-width="0.8"/><path d="M1020.5,156.27 h-2.67" stroke-width="0.8"/><path d="M98.5,147.96 h2.67" stroke-width="0.8"/><path d="M1020.5,147.96 h-2.67" stroke-width="0.8"/><path d="M98.5,141.52 h2.67" stroke-width="0.8"/><path d="M1020.5,141.52 h-2.67" stroke-width="0.8"/><path d="M98.5,136.25 h2.67" stroke-width="0.8"/><path d="M1020.5,136.25 h-2.67" stroke-width="0.8"/><path d="M98.5,131.80 h2.67" stroke-width="0.8"/><path d="M1020.5,131.80 h-2.67" stroke-width="0.8"/><path d="M98.5,127.94 h2.67" stroke-width="0.8"/><path d="M1020.5,127.94 h-2.67" stroke-width="0.8"/><path d="M98.5,124.54 h2.67" stroke-width="0.8"/><path d="M1020.5,124.54 h-2.67" stroke-width="0.8"/><path d="M98.5,121.50 h4.67" stroke-width="1.07"/><path d="M1020.5,121.50 h-4.67" stroke-width="1.07"/><path d="M98.5,101.48 h2.67" stroke-width="0.8"/><path d="M1020.5,101.48 h-2.67" stroke-width="0.8"/><path d="M98.5,89.77 h2.67" stroke-width="0.8"/><path d="M1020.5,89.77 h-2.67" stroke-width="0.8"/><path d="M98.5,81.46 h2.67" stroke-width="0.8"/><path d="M1020.5,81.46 h-2.67" stroke-width="0.8"/><path d="M98.5,75.02 h2.67" stroke-width="0.8"/><path d="M1020.5,75.02 h-2.67" stroke-width="0.8"/><path d="M98.5,69.75 h2.67" stroke-width="0.8"/><path d="M1020.5,69.75 h-2.67" stroke-width="0.8"/><path d="M98.5,65.30 h2.67" stroke-width="0.8"/><path d="M1020.5,65.30 h-2.67" stroke-width="0.8"/><path d="M98.5,61.44 h2.67" stroke-width="0.8"/><path d="M1020.5,61.44 h-2.67" stroke-width="0.8"/><path d="M98.5,58.04 h2.67" stroke-width="0.8"/><path d="M1020.5,58.04 h-2.67" stroke-width="0.8"/></g>
<rect x="98.5" y="56.0" width="922.0" height="583.5" fill="none" stroke="#000" stroke-width="1.07"/>
<rect x="602.6" y="68.1" width="405.9" height="148.1" rx="4.8" ry="4.8" fill="#fff" fill-opacity="0.8" stroke="#ccc" stroke-width="1.33"/>
<path d="M611.9,87.4 h48" stroke="#d62728" stroke-width="2.67" fill="none" stroke-dasharray="9.87 4.27"/>
<path d="M611.9,123.0 h48" stroke="#2ca02c" stroke-width="2" fill="none" stroke-dasharray="7.4 3.2"/>
<path d="M611.9,158.4 h48" stroke="#1f77b4" stroke-width="2" fill="none" stroke-linecap="square"/>
<path d="M611.9,193.6 h48" stroke="#ff7f0e" stroke-width="2" fill="none" stroke-linecap="square"/>
<g font-family="'DejaVu Sans', 'Liberation Sans', sans-serif" font-size="24" fill="#000">
<text x="679.7" y="96.2" textLength="179.2">Injected Image</text>
<text x="679.7" y="131.7" textLength="290.1">Simulated <tspan font-style="italic">Planck</tspan> Image</text>
<text x="679.7" y="167.1" textLength="247.35">Raw SCUBA-2 Image</text>
<text x="679.7" y="202.5" textLength="319.3">Feathered SCUBA-2 Image</text>
</g>
<g font-family="'DejaVu Sans', 'Liberation Sans', sans-serif" font-size="26.67" fill="#000" text-anchor="middle">
<text x="110.0" y="663.6">0.010</text>
<text x="388.0" y="663.6">0.100</text>
<text x="666.0" y="663.6">1.000</text>
<text x="944.0" y="663.6">10.000</text>
<text x="110.0" y="46">100.000</text>
<text x="388.0" y="46">10.000</text>
<text x="666.0" y="46">1.000</text>
<text x="944.0" y="46">0.100</text>
<text x="559.8" y="20.2" textLength="209.5">Spatial Scale (')</text>
<text x="559.5" y="695.7" textLength="303.5">Spatial Frequency (1/')</text>
<text transform="translate(20.6,347.5) rotate(-90)" textLength="465.9">Normalised Power (Arbitrary Units)</text>
</g>
<g font-family="'DejaVu Sans', 'Liberation Sans', sans-serif" font-size="26.67" fill="#000" text-anchor="end">
<text x="92.9" y="597.0">10<tspan font-size="18.67" dy="-9.8">−2</tspan></text>
<text x="92.9" y="530.5">10<tspan font-size="18.67" dy="-9.8">−1</tspan></text>
<text x="91.8" y="464.0">10<tspan font-size="18.67" dy="-9.8">0</tspan></text>
<text x="91.8" y="397.5">10<tspan font-size="18.67" dy="-9.8">1</tspan></text>
<text x="91.8" y="331.0">10<tspan font-size="18.67" dy="-9.8">2</tspan></text>
<text x="91.8" y="264.5">10<tspan font-size="18.67" dy="-9.8">3</tspan></text>
<text x="91.8" y="198.0">10<tspan font-size="18.67" dy="-9.8">4</tspan></text>
<text x="91.8" y="131.5">10<tspan font-size="18.67" dy="-9.8">5</tspan></text>
</g>
</svg>
</body></html>
